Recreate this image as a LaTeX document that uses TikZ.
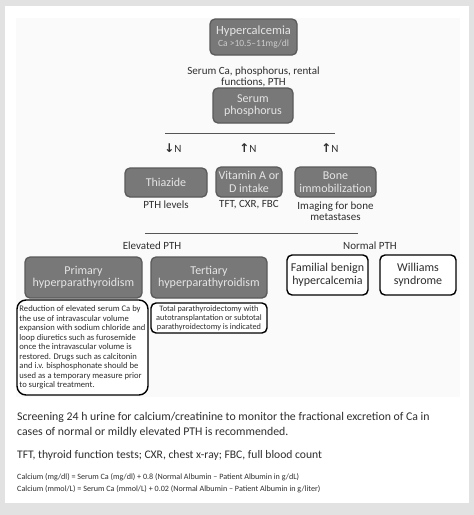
\documentclass[tikz,border=0pt]{standalone}
\usepackage{fontspec}
\setmainfont{Carlito}
\newfontfamily\arrowfont{DejaVu Sans}
\definecolor{boxgray}{HTML}{787878}
\definecolor{boxedge}{HTML}{5A5A5A}
\definecolor{framegray}{HTML}{E2E2E2}
\definecolor{panelgray}{HTML}{FAFAFA}
\definecolor{inkgray}{HTML}{2E2E2E}
\definecolor{rulegray}{HTML}{555555}
\begin{document}
\begin{tikzpicture}[x=1pt,y=-1pt,
    graybox/.style={draw=boxedge,line width=1.3pt,fill=boxgray,rounded corners=5pt,
      text=white!90!black,align=center,inner sep=1pt,font=\fontsize{12}{12.5}\selectfont},
    whitebox/.style={draw=black,line width=1.4pt,fill=white,rounded corners=5pt,
      text=inkgray,align=center,inner sep=1pt,font=\fontsize{12}{12.5}\selectfont},
    notebox/.style={draw=black,line width=1.4pt,fill=white,rounded corners=9pt,
      text=inkgray,inner sep=1pt,font=\fontsize{8.6}{9.5}\selectfont},
    label/.style={text=inkgray,align=center,inner sep=0pt,font=\fontsize{11}{11.5}\selectfont},
    footnote/.style={text=inkgray,align=left,inner sep=0pt,anchor=west},
    rule/.style={draw=rulegray,line width=0.9pt}]
  \useasboundingbox[fill=framegray] (0,0) rectangle (474,515);
  \fill[white] (5,6) rectangle (469,503);
  \fill[panelgray] (16,18) rectangle (460,397);
  \draw
    (253.5,37) node[graybox,minimum width=87pt,minimum height=36pt] (hyper)
      {{\fontsize{12.5}{13}\selectfont Hypercalcemia}\\[-1pt]{\fontsize{9.5}{10}\selectfont\color{white!80!black}Ca >10.5--11mg/dl}}
    (253.5,77) node[label,font=\fontsize{11}{10.5}\selectfont] (tests) {Serum Ca, phosphorus, rental\\functions, PTH}
    (253,105.5) node[graybox,minimum width=80pt,minimum height=35pt] (phos) {Serum\\phosphorus}
    (173,148) node[label] (low) {{\arrowfont\bfseries\fontsize{12}{12}\selectfont ↓}N}
    (248,148) node[label] (highA) {{\arrowfont\bfseries\fontsize{12}{12}\selectfont ↑}N}
    (330,148) node[label] (highB) {{\arrowfont\bfseries\fontsize{12}{12}\selectfont ↑}N}
    (166,182.5) node[graybox,minimum width=82pt,minimum height=29pt] (thiazide) {Thiazide}
    (249,182) node[graybox,minimum width=66pt,minimum height=30pt] (vitamin) {Vitamin A or\\D intake}
    (335.5,182) node[graybox,minimum width=81pt,minimum height=30pt] (bone) {Bone\\immobilization}
    (166,205) node[label] (pth) {PTH levels}
    (249,205) node[label] (tft) {TFT, CXR, FBC}
    (335.5,211) node[label] (imaging) {Imaging for bone\\metastases}
    (152,246) node[label] (elevated) {Elevated PTH}
    (370,246) node[label] (normal) {Normal PTH}
    (83.5,277.5) node[graybox,minimum width=117pt,minimum height=41pt] (primary) {Primary\\hyperparathyroidism}
    (209,277.5) node[graybox,minimum width=116pt,minimum height=41pt] (tertiary) {Tertiary\\hyperparathyroidism}
    (327.5,275) node[whitebox,minimum width=81pt,minimum height=40pt] (familial) {Familial benign\\hypercalcemia}
    (418,275) node[whitebox,minimum width=76pt,minimum height=40pt] (williams) {Williams\\syndrome}
    (82.5,347.5) node[notebox,align=left,minimum width=131pt,minimum height=95pt] (primarynote)
      {Reduction of elevated serum Ca by\\the use of intravascular volume\\expansion with sodium chloride and\\loop diuretics such as furosemide\\once the intravascular volume is\\restored. Drugs such as calcitonin\\and i.v. bisphosphonate should be\\used as a temporary measure prior\\to surgical treatment.}
    (209,318) node[notebox,align=center,rounded corners=5pt,minimum width=116pt,minimum height=30pt,
      font=\fontsize{8.3}{9}\selectfont] (tertiarynote)
      {Total parathyroidectomy with\\autotransplantation or subtotal\\parathyroidectomy is indicated}
    (17,424.5) node[footnote,font=\fontsize{11.8}{15}\selectfont] (screening)
      {Screening 24 h urine for calcium/creatinine to monitor the fractional excretion of Ca in\\cases of normal or mildly elevated PTH is recommended.}
    (17,455) node[footnote,font=\fontsize{11.6}{13}\selectfont] (abbrev)
      {TFT, thyroid function tests; CXR, chest x-ray; FBC, full blood count}
    (17,483) node[footnote,font=\fontsize{8.1}{12.5}\selectfont] (formula)
      {Calcium (mg/dl) = Serum Ca (mg/dl) + 0.8 (Normal Albumin -- Patient Albumin in g/dL)\\Calcium (mmol/L) = Serum Ca (mmol/L) + 0.02 (Normal Albumin -- Patient Albumin in g/liter)};
  \coordinate (upperleft) at (165,133);
  \coordinate (upperright) at (335,133);
  \coordinate (lowerleft) at (145,233);
  \coordinate (lowerright) at (358,233);
  \begin{scope}[rule]
    \draw (upperleft) to (upperright);
    \draw (lowerleft) to (lowerright);
  \end{scope}
\end{tikzpicture}
\end{document}
